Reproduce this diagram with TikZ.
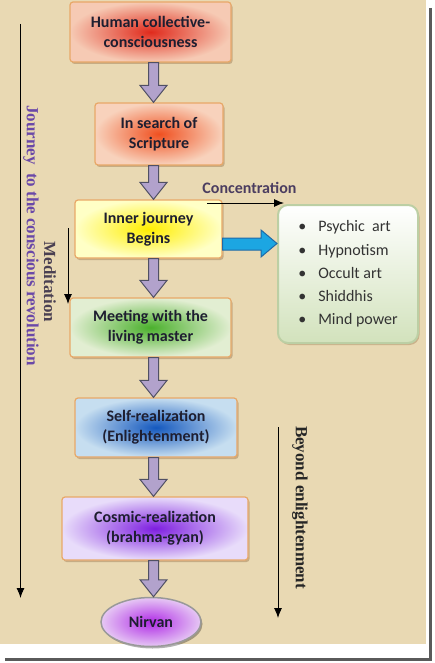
\documentclass[tikz,border=0pt]{standalone}
\usepackage{fontspec}
\setmainfont{Liberation Serif}
\newfontfamily\calfont{Carlito}
\usetikzlibrary{shadows,arrows.meta,calc,shapes.geometric}
\definecolor{parch}{HTML}{E9D9B3}
\definecolor{framegray}{HTML}{5A5A5A}
\definecolor{boxborder}{HTML}{E8A868}
\definecolor{txtdark}{HTML}{1E1E30}
\definecolor{jpurple}{HTML}{6A48A8}
\definecolor{medcol}{HTML}{4A4052}
\definecolor{concol}{HTML}{4B3D60}
\definecolor{arrfill}{HTML}{B2A2CC}
\definecolor{arrdraw}{HTML}{505064}
\definecolor{bluefill}{HTML}{1CA6E2}
\definecolor{bluedraw}{HTML}{1E6AA8}
\definecolor{oa}{HTML}{F6CAB4}\definecolor{ia}{HTML}{E02A1C}
\definecolor{ob}{HTML}{F8D2BC}\definecolor{ib}{HTML}{F05020}
\definecolor{oc}{HTML}{FFFFC6}\definecolor{ic}{HTML}{FFEE00}
\definecolor{od}{HTML}{E2EED2}\definecolor{id}{HTML}{4AB02C}
\definecolor{oe}{HTML}{C6DEF0}\definecolor{ie}{HTML}{1458BE}
\definecolor{of}{HTML}{E8DCFA}\definecolor{if}{HTML}{7E1EE0}
\definecolor{og}{HTML}{E6C8F4}\definecolor{ig}{HTML}{B02CE6}
\definecolor{rbbot}{HTML}{D2E2BC}
\definecolor{rbdraw}{HTML}{BCCFA4}
\tikzset{
  box/.style={rectangle, rounded corners=3pt, draw=boxborder, line width=1.2pt,
    font=\calfont\bfseries\fontsize{16}{20}\selectfont, align=center, text=txtdark,
    drop shadow={shadow xshift=1.5pt, shadow yshift=-2pt, fill=brown!70!black, opacity=0.35}},
  glow/.style 2 args={fill=#2, path picture={\shade[inner color=#1, outer color=#2]
    (path picture bounding box.south west) rectangle (path picture bounding box.north east);}},
  fatarrow/.style={fill=arrfill, draw=arrdraw, line width=1pt, line join=miter},
  bluearrow/.style={fill=bluefill, draw=bluedraw, line width=1pt, line join=miter},
  thinarrow/.style={line width=0.9pt, -{Latex[length=10pt,width=8pt]}},
  sidelabel/.style={rotate=-90, font=\bfseries\fontsize{17}{20}\selectfont},
}
\newcommand\fatdown[2]{%
  \path[fatarrow] let \p1=(#1.south), \p2=(#2.north) in
    (148.5pt,\y1) -- (158.5pt,\y1) -- ({158.5pt},{\y2+17pt}) -- ({167pt},{\y2+17pt})
    -- (153.5pt,\y2) -- ({140pt},{\y2+17pt}) -- ({148.5pt},{\y2+17pt}) -- cycle;}
\begin{document}
\begin{tikzpicture}[x=1pt,y=-1pt]
\useasboundingbox (0,0) rectangle (434,663);
\fill[white] (0,0) rectangle (434,663);
\fill[parch] (0,0) rectangle (426,644);
\draw[framegray, line width=2.5pt] (430.5,8) -- (430.5,659.5) -- (5,659.5);

% main boxes
\node[box, glow={ia}{oa}, minimum width=161pt, minimum height=60pt] (b1) at (150.5,32) {Human collective-\\consciousness};
\node[box, glow={ib}{ob}, minimum width=128pt, minimum height=62pt] (b2) at (159,134) {In search of\\Scripture};
\node[box, glow={ic}{oc}, minimum width=147pt, minimum height=58pt] (b3) at (148.5,229) {Inner journey\\Begins};
\node[box, glow={id}{od}, minimum width=161pt, minimum height=59pt] (b4) at (150.5,327.5) {Meeting with the\\living master};
\node[box, glow={ie}{oe}, minimum width=162pt, minimum height=59pt] (b5) at (156,427.5) {Self-realization\\(Enlightenment)};
\node[box, glow={if}{of}, minimum width=186pt, minimum height=63pt] (b6) at (155,528.5) {Cosmic-realization\\(brahma-gyan)};
\node[ellipse, draw=gray!80, line width=1.5pt, glow={ig}{og}, minimum width=100pt, minimum height=49pt, inner sep=0pt,
  font=\calfont\bfseries\fontsize{16}{20}\selectfont, text=txtdark,
  drop shadow={shadow xshift=1.5pt, shadow yshift=-2pt, fill=black, opacity=0.3}] (nv) at (151,622) {Nirvan};

% right list box
\node[rectangle, rounded corners=10pt, draw=rbdraw, line width=2pt, top color=white, bottom color=rbbot,
  minimum width=140pt, minimum height=138pt, align=left, text=black!80,
  font=\calfont\fontsize{16}{23.25}\selectfont,
  drop shadow={shadow xshift=1.5pt, shadow yshift=-2pt, fill=brown!70!black, opacity=0.3}] (rb) at (348,274)
  {\textbullet\hspace{12pt}Psychic\ \ art\\ \textbullet\hspace{12pt}Hypnotism\\ \textbullet\hspace{12pt}Occult art\\ \textbullet\hspace{12pt}Shiddhis\\ \textbullet\hspace{12pt}Mind power};

% fat down arrows
\fatdown{b1}{b2}
\fatdown{b2}{b3}
\fatdown{b3}{b4}
\fatdown{b4}{b5}
\fatdown{b5}{b6}
\fatdown{b6}{nv}

% blue arrow
\path[bluearrow] let \p1=(b3.east), \p2=(rb.west) in
  (\x1,-238pt) -- ({\x2-16pt},-238pt) -- ({\x2-16pt},-230pt) -- (\x2,-243.5pt)
  -- ({\x2-16pt},-257pt) -- ({\x2-16pt},-250pt) -- (\x1,-250pt) -- cycle;

% concentration
\coordinate (cs) at (207,203);
\coordinate (ce) at (284,203);
\draw[thinarrow] (cs) -- (ce);
\node[font=\calfont\bfseries\fontsize{16}{20}\selectfont, text=concol] (cl) at (249.5,188) {Concentration};

% meditation
\coordinate (ms) at (68,228);
\coordinate (me) at (68,304);
\draw[thinarrow] (ms) -- (me);
\node[sidelabel, text=medcol] (ml) at (50,282) {Meditation};

% journey
\coordinate (js) at (20.5,24);
\coordinate (je) at (20.5,598);
\draw[thinarrow] (js) -- (je);
\node[sidelabel, text=jpurple] (jl) at (31,235.5) {Journey\ \ to\ the\ conscious\ revolution};

% beyond
\coordinate (bs) at (278,427);
\coordinate (be) at (278,618);
\draw[thinarrow] (bs) -- (be);
\node[sidelabel, text=black!85] (bl) at (300,507.5) {Beyond enlightenment};
\end{tikzpicture}
\end{document}
